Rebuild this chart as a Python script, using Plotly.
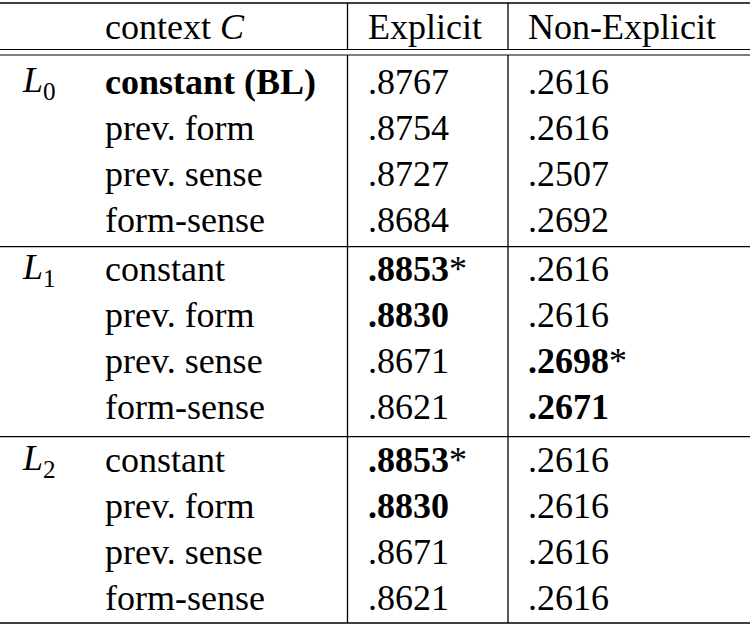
import plotly.graph_objects as go

# ---- data ----
levels = ["L0", "L1", "L2"]
contexts = [
    ["constant (BL)", "prev. form", "prev. sense", "form-sense"],
    ["constant", "prev. form", "prev. sense", "form-sense"],
    ["constant", "prev. form", "prev. sense", "form-sense"],
]
explicit = [
    [0.8767, 0.8754, 0.8727, 0.8684],
    [0.8853, 0.8830, 0.8671, 0.8621],
    [0.8853, 0.8830, 0.8671, 0.8621],
]
non_explicit = [
    [0.2616, 0.2616, 0.2507, 0.2692],
    [0.2616, 0.2616, 0.2698, 0.2671],
    [0.2616, 0.2616, 0.2616, 0.2616],
]
explicit_bold = [
    [False, False, False, False],
    [True, True, False, False],
    [True, True, False, False],
]
explicit_star = [
    [False, False, False, False],
    [True, False, False, False],
    [True, False, False, False],
]
non_explicit_bold = [
    [False, False, False, False],
    [False, False, True, True],
    [False, False, False, False],
]
non_explicit_star = [
    [False, False, False, False],
    [False, False, True, False],
    [False, False, False, False],
]
context_bold = [
    [True, False, False, False],
    [False, False, False, False],
    [False, False, False, False],
]
headers = ["", "context <i>C</i>", "Explicit", "Non-Explicit"]

# ---- layout geometry ----
W, H = 751, 631
FONT = "Liberation Serif"
FS = 36
col_x = [20, 103, 366, 526]
header_y = 27
group_first_y = [82, 269, 460]
row_step = 46
vline_x = [347.5, 508]
top_y = 3
dbl_y = [49.5, 55]
sep_y = [246.7, 436.7]
bottom_y = 623


def fmt(v):
    return f"{v:.4f}"[1:]


def cell(v, bold, star):
    s = fmt(v)
    if bold:
        s = f"<b>{s}</b>"
    if star:
        s += "*"
    return s


annotations = []


def add(x, y, text):
    annotations.append(dict(
        x=x, y=y, xref="x", yref="y", text=text, showarrow=False,
        xanchor="left", yanchor="middle",
        font=dict(family=FONT, size=FS, color="black"),
    ))


for c, h in enumerate(headers):
    if h:
        add(col_x[c], header_y, h)

for g, lev in enumerate(levels):
    for r in range(4):
        y = group_first_y[g] + r * row_step
        if r == 0:
            add(col_x[0], y, f"<i>{lev[0]}</i><sub>{lev[1:]}</sub>")
        ctx = contexts[g][r]
        if context_bold[g][r]:
            ctx = f"<b>{ctx}</b>"
        add(col_x[1], y, ctx)
        add(col_x[2], y, cell(explicit[g][r], explicit_bold[g][r], explicit_star[g][r]))
        add(col_x[3], y, cell(non_explicit[g][r], non_explicit_bold[g][r], non_explicit_star[g][r]))

shapes = []


def hline(y, w=1.3):
    shapes.append(dict(type="line", xref="x", yref="y", x0=0, x1=750, y0=y, y1=y,
                       line=dict(color="black", width=w)))


def vline(x, y0, y1, w=1.3):
    shapes.append(dict(type="line", xref="x", yref="y", x0=x, x1=x, y0=y0, y1=y1,
                       line=dict(color="black", width=w)))


hline(top_y)
for y in dbl_y:
    hline(y, 1.1)
for y in sep_y:
    hline(y)
hline(bottom_y)
for x in vline_x:
    vline(x, top_y, dbl_y[0])
    vline(x, dbl_y[1], bottom_y)

fig = go.Figure()
fig.add_trace(go.Scatter(x=[0, W], y=[0, H], mode="markers",
                         marker=dict(opacity=0), hoverinfo="skip", showlegend=False))
fig.update_layout(
    width=W, height=H,
    margin=dict(l=0, r=0, t=0, b=0),
    paper_bgcolor="white", plot_bgcolor="white",
    xaxis=dict(range=[0, W], visible=False, fixedrange=True),
    yaxis=dict(range=[H, 0], visible=False, fixedrange=True),
    annotations=annotations,
    shapes=shapes,
    showlegend=False,
)
fig.write_html(
    "out.html",
    config={"displayModeBar": False},
    post_script="document.body.style.margin='0';document.body.style.overflow='hidden';",
)
